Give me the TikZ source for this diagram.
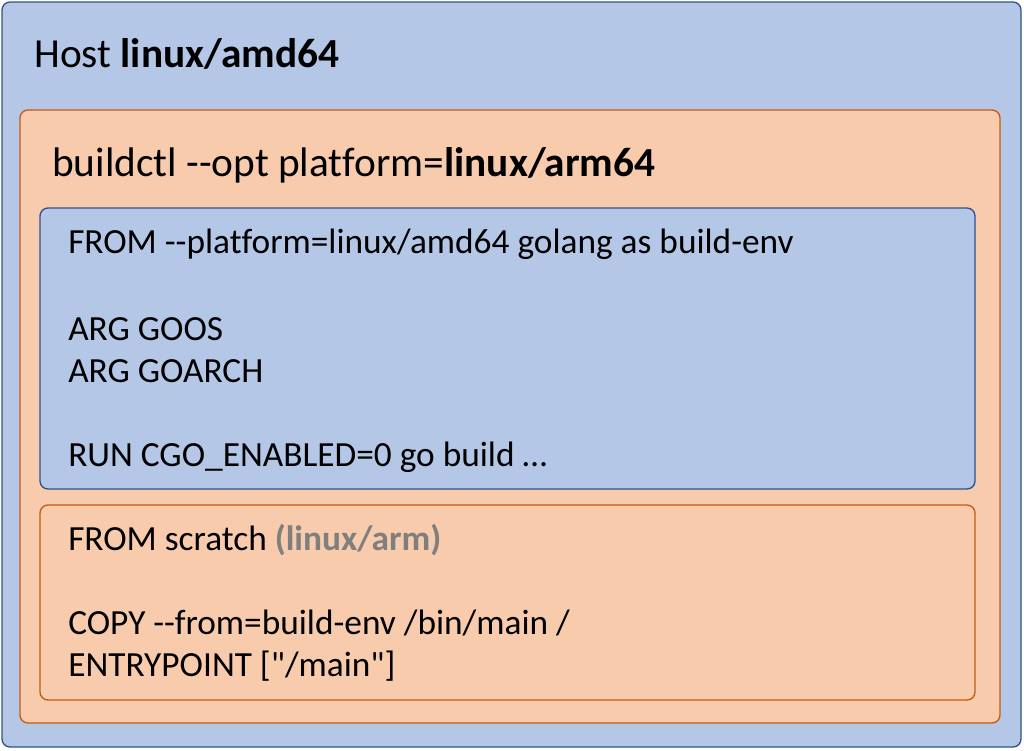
\documentclass[tikz,border=0pt]{standalone}
\usepackage{fontspec}
\setmainfont{Carlito}[Ligatures={TeXOff,CommonOff}]
\definecolor{bluef}{HTML}{B4C7E7}
\definecolor{blued}{HTML}{2F528F}
\definecolor{orf}{HTML}{F8CBAD}
\definecolor{ord}{HTML}{C55A11}
\definecolor{gr}{HTML}{7F7F7F}
\tikzset{
  bluebox/.style={fill=bluef,draw=blued,line width=1pt,rounded corners=6pt},
  orbox/.style={fill=orf,draw=ord,line width=1pt,rounded corners=6pt},
  code/.style={anchor=base west,inner sep=0pt,font=\fontsize{26.5}{31}\selectfont},
  title/.style={anchor=base west,inner sep=0pt,font=\fontsize{31}{36}\selectfont}
}
\begin{document}
\begin{tikzpicture}[x=0.75pt,y=-0.75pt]
\useasboundingbox (0,0) rectangle (1024,750);
\draw[bluebox] (2,2) rectangle (1021,747);
\draw[orbox] (20,110) rectangle (1000,723);
\draw[bluebox] (40,208) rectangle (975,489);
\draw[orbox] (40,505) rectangle (975,700);
\node[title] (host) at (34,67) {Host \textbf{linux/amd64}};
\node[title] (bctl) at (52,176) {buildctl -{}-opt platform=\textbf{linux/arm64}};
\node[code] (l1) at (68,253) {FROM -{}-platform=linux/amd64 golang as build-env};
\node[code] (l2) at (68,340) {ARG GOOS};
\node[code] (l3) at (68,382) {ARG GOARCH};
\node[code] (l4) at (68,466) {RUN CGO\_ENABLED=0 go build …};
\node[code] (l5) at (68,550) {FROM scratch \textcolor{gr}{\textbf{(linux/arm)}}};
\node[code] (l6) at (68,634) {COPY -{}-from=build-env /bin/main /};
\node[code] (l7) at (68,676) {ENTRYPOINT [\symbol{34}/main\symbol{34}]};
\end{tikzpicture}
\end{document}
